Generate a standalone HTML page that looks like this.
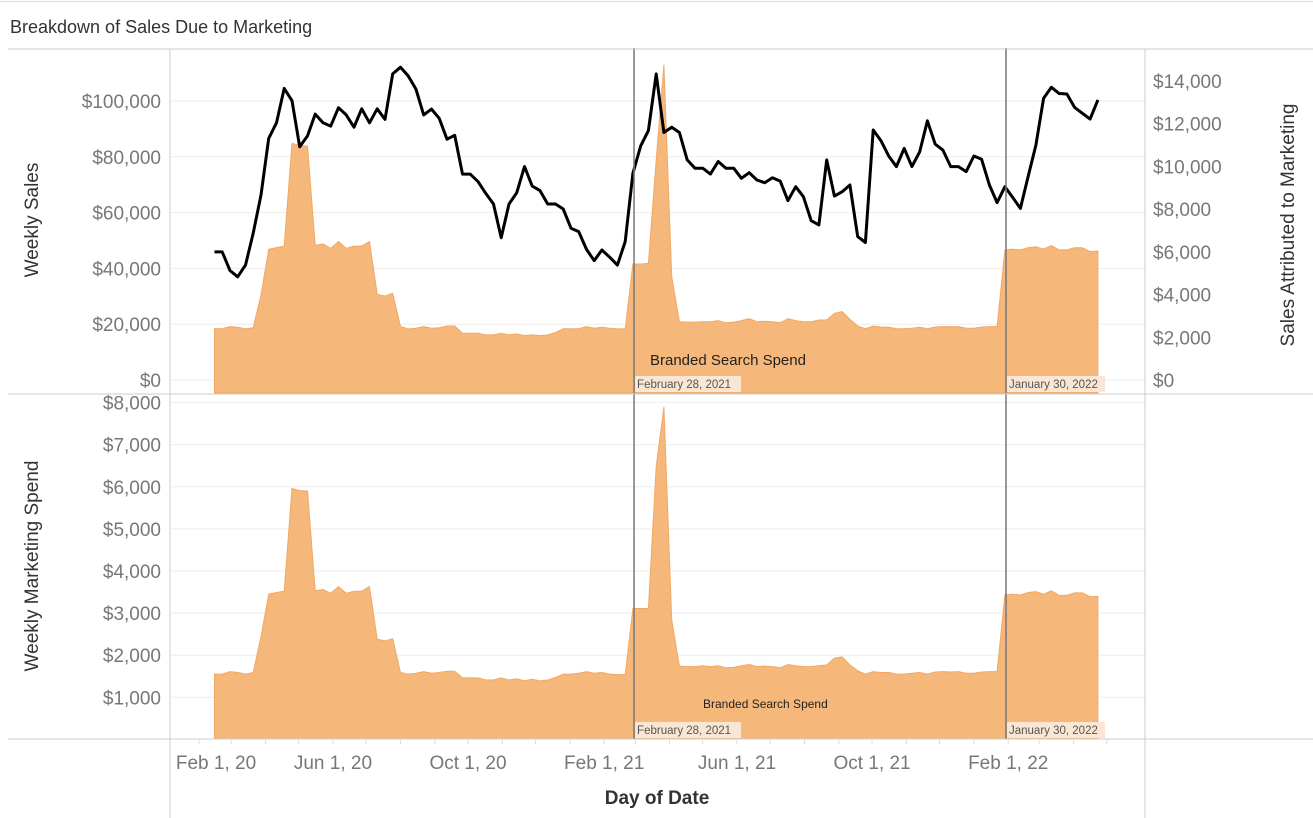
<!DOCTYPE html>
<html><head><meta charset="utf-8"><style>
html,body{margin:0;padding:0;background:#fff;}
svg{display:block;font-family:"Liberation Sans",sans-serif;}
</style></head><body>
<svg id="chart" width="1313" height="818" viewBox="0 0 1313 818">
<line x1="0" y1="1.5" x2="1313" y2="1.5" stroke="#ddd"/>
<text x="10" y="33" font-size="18" fill="#333">Breakdown of Sales Due to Marketing</text>
<g id="grid"></g>
<g id="areas"></g>
<g id="lines"></g>
<g id="annot"></g>
<g id="frame"></g>
<g id="axes"></g>
</svg>
<script>
// ---- data ----
const startDate = "2020-02-15";
const weeklySales = [45.9,45.9,39.2,37.0,41.2,52.6,66.3,86.6,92.2,104.5,100.1,83.6,87.5,95.3,92.2,91.0,97.6,95.0,90.6,97.2,92.2,97.2,93.4,109.7,112.1,109.0,104.2,95.0,97.1,93.8,86.3,87.7,73.8,73.8,71.1,66.9,63.1,51.0,63.1,67.1,
76.5,69.5,67.9,63.1,63.1,61.3,54.4,53.2,46.8,42.8,46.6,44.0,41.2,49.6,74.1,83.9,89.4,109.7,88.7,90.6,88.7,78.9,75.9,75.9,73.8,78.3,75.9,75.9,72.3,74.3,71.7,70.7,72.5,71.3,64.3,69.3,65.7,57.1,55.6,
78.9,65.9,67.5,69.9,51.4,49.3,89.6,85.8,80.3,76.5,83.0,76.5,81.8,92.9,84.5,82.4,76.5,76.5,74.7,80.3,79.1,69.9,63.6,69.3,65.5,61.5,72.9,84.2,101.0,104.9,102.7,102.5,97.7,95.6,93.5,100.4];
const salesAttributed = [2.40,2.40,2.50,2.47,2.39,2.45,3.98,6.12,6.20,6.27,11.08,10.97,10.95,6.30,6.37,6.16,6.48,6.16,6.27,6.27,6.48,4.01,3.93,4.06,2.50,2.39,2.42,2.50,2.42,2.45,2.53,2.53,2.19,2.19,2.19,2.11,2.11,2.19,2.11,2.16,
2.08,2.11,2.08,2.11,2.22,2.40,2.40,2.40,2.50,2.42,2.47,2.42,2.39,2.39,5.43,5.43,5.46,10.3,14.75,4.84,2.73,2.71,2.71,2.73,2.73,2.78,2.68,2.71,2.78,2.87,2.73,2.75,2.73,2.68,2.87,2.78,2.73,2.73,2.81,
2.81,3.12,3.20,2.84,2.53,2.40,2.53,2.48,2.47,2.40,2.40,2.42,2.47,2.40,2.48,2.50,2.50,2.50,2.42,2.42,2.48,2.50,2.50,6.09,6.12,6.09,6.19,6.24,6.13,6.29,6.09,6.09,6.19,6.19,6.01,6.04];
const weeklySpend = [1.55,1.55,1.61,1.59,1.55,1.59,2.44,3.45,3.49,3.52,5.96,5.91,5.90,3.53,3.56,3.47,3.63,3.47,3.52,3.52,3.63,2.38,2.34,2.39,1.59,1.55,1.57,1.61,1.57,1.59,1.62,1.62,1.46,1.46,1.46,1.41,1.41,1.46,1.41,1.44,
1.39,1.43,1.39,1.41,1.47,1.55,1.55,1.57,1.61,1.57,1.59,1.55,1.54,1.54,3.11,3.11,3.11,6.48,7.90,2.84,1.74,1.73,1.73,1.75,1.73,1.75,1.70,1.71,1.75,1.78,1.73,1.74,1.73,1.70,1.78,1.75,1.73,1.73,1.75,
1.77,1.93,1.96,1.77,1.63,1.55,1.61,1.59,1.59,1.55,1.55,1.57,1.59,1.55,1.60,1.61,1.60,1.61,1.57,1.57,1.60,1.61,1.61,3.43,3.45,3.43,3.49,3.51,3.45,3.53,3.42,3.42,3.48,3.48,3.39,3.40];
const salesTicks = [0,20,40,60,80,100];
const attrTicks = [0,2,4,6,8,10,12,14];
const spendTicks = [1,2,3,4,5,6,7,8];
const xTickLabels = ["Feb 1, 20","Jun 1, 20","Oct 1, 20","Feb 1, 21","Jun 1, 21","Oct 1, 21","Feb 1, 22"];
const xTickDates = ["2020-02-01","2020-06-01","2020-10-01","2021-02-01","2021-06-01","2021-10-01","2022-02-01"];
const refDates = ["2021-02-28","2022-01-30"];
const refLabels = ["February 28, 2021","January 30, 2022"];

// ---- scales ----
const DAY=86400000, origin=Date.UTC(2020,1,1);
function dayNum(s){const p=s.split('-');return (Date.UTC(+p[0],+p[1]-1,+p[2])-origin)/DAY;}
function xDays(d){return 199+1.107*d;}
function xIdx(i){return xDays(dayNum(startDate)+7*i);}
function ySales(v){return 380-v*2.79;}
function yAttr(v){return 380-v*21.36;}
function ySpend(v){return 739.4-v*42.1;}
const NS="http://www.w3.org/2000/svg";
function mk(tag,attrs,parent){const e=document.createElementNS(NS,tag);for(const k in attrs)e.setAttribute(k,attrs[k]);parent.appendChild(e);return e;}
function fmt(v){return '$'+(v*1000).toLocaleString('en-US');}
const grid=document.getElementById('grid'),areas=document.getElementById('areas'),lines=document.getElementById('lines'),annot=document.getElementById('annot'),frame=document.getElementById('frame'),axes=document.getElementById('axes');

// gridlines
salesTicks.forEach(v=>{const g=mk('line',{x1:170,x2:1145,y1:ySales(v),y2:ySales(v),stroke:'#eee'},grid);

});
spendTicks.forEach(v=>{const g=mk('line',{x1:170,x2:1145,y1:ySpend(v),y2:ySpend(v),stroke:'#eee'},grid);

});

// areas
function areaPath(arr,yf,base){let d='M'+xIdx(0)+','+base;arr.forEach((v,i)=>{d+=' L'+xIdx(i).toFixed(1)+','+yf(v).toFixed(1);});d+=' L'+xIdx(arr.length-1).toFixed(1)+','+base+' Z';return d;}
const a1=mk('path',{d:areaPath(salesAttributed,yAttr,393),fill:'#f5b87a',stroke:'#f2a865','stroke-width':1},areas);


const a2=mk('path',{d:areaPath(weeklySpend,ySpend,739),fill:'#f5b87a',stroke:'#f2a865','stroke-width':1},areas);



// sales line
let ld='';weeklySales.forEach((v,i)=>{ld+=(i?' L':'M')+xIdx(i).toFixed(1)+','+ySales(v).toFixed(1);});
const sl=mk('path',{d:ld,fill:'none',stroke:'#000','stroke-width':3,'stroke-linejoin':'round'},lines);



// reference lines & annotations
refDates.forEach((ds,k)=>{const x=xDays(dayNum(ds));
 [[48,393],[394,739]].forEach((r,j)=>{
  const l=mk('line',{x1:x,x2:x,y1:r[0],y2:r[1],stroke:'#777','stroke-width':1.5},annot);
  
  
  const by=j?722:376;
  const w=k?98:106;
  const b=mk('rect',{x:x+1,y:by,width:w,height:16,fill:'#fbe6d4'},annot);
  
  
  const t=mk('text',{x:x+3,y:by+12,'font-size':11.5,fill:'#555'},annot);t.textContent=refLabels[k];
  
  
 });});
const bs1=mk('text',{x:650,y:365,'font-size':15,fill:'#222'},annot);bs1.textContent='Branded Search Spend';


const bs2=mk('text',{x:703,y:708,'font-size':12,fill:'#222'},annot);bs2.textContent='Branded Search Spend';



// frame
[[8,49,1313,49],[8,394,1313,394],[8,739,1313,739]].forEach(c=>{const l=mk('line',{x1:c[0],y1:c[1],x2:c[2],y2:c[3],stroke:'#ccc'},frame);

});
[[170,49,170,818],[1145,49,1145,818]].forEach(c=>{const l=mk('line',{x1:c[0],y1:c[1],x2:c[2],y2:c[3],stroke:'#ccc'},frame);

});

// y ticks
salesTicks.forEach(v=>{const t=mk('text',{x:161,y:ySales(v)+7,'font-size':19,fill:'#777','text-anchor':'end'},axes);t.textContent=fmt(v);

});
attrTicks.forEach(v=>{const t=mk('text',{x:1153,y:yAttr(v)+7,'font-size':19,fill:'#777'},axes);t.textContent=fmt(v);

});
spendTicks.forEach(v=>{const t=mk('text',{x:161,y:ySpend(v)+7,'font-size':19,fill:'#777','text-anchor':'end'},axes);t.textContent=fmt(v);

});
// monthly minor ticks
for(let m=1;m<30;m++){const y=2020+Math.floor(m/12),mo=m%12;const d=(Date.UTC(y,mo,1)-origin)/DAY;const x=xDays(d);if(x>1140)break;
 const l=mk('line',{x1:x,x2:x,y1:739,y2:744,stroke:'#ddd'},axes);
 
 }
xTickLabels.forEach((s,i)=>{let x=xDays(dayNum(xTickDates[i]));x=Math.max(x,216);
 const t=mk('text',{x:x,y:769,'font-size':19,fill:'#777','text-anchor':'middle'},axes);t.textContent=s;
 
 });
const xt=mk('text',{x:657,y:804,'font-size':19,'font-weight':'bold',fill:'#333','text-anchor':'middle'},axes);xt.textContent='Day of Date';


const y1=mk('text',{x:0,y:0,'font-size':19,fill:'#333','text-anchor':'middle',transform:'translate(38,220) rotate(-90)'},axes);y1.textContent='Weekly Sales';


const y2=mk('text',{x:0,y:0,'font-size':19,fill:'#333','text-anchor':'middle',transform:'translate(1294,225) rotate(-90)'},axes);y2.textContent='Sales Attributed to Marketing';


const y3=mk('text',{x:0,y:0,'font-size':19,fill:'#333','text-anchor':'middle',transform:'translate(38,566) rotate(-90)'},axes);y3.textContent='Weekly Marketing Spend';


</script>
</body></html>
